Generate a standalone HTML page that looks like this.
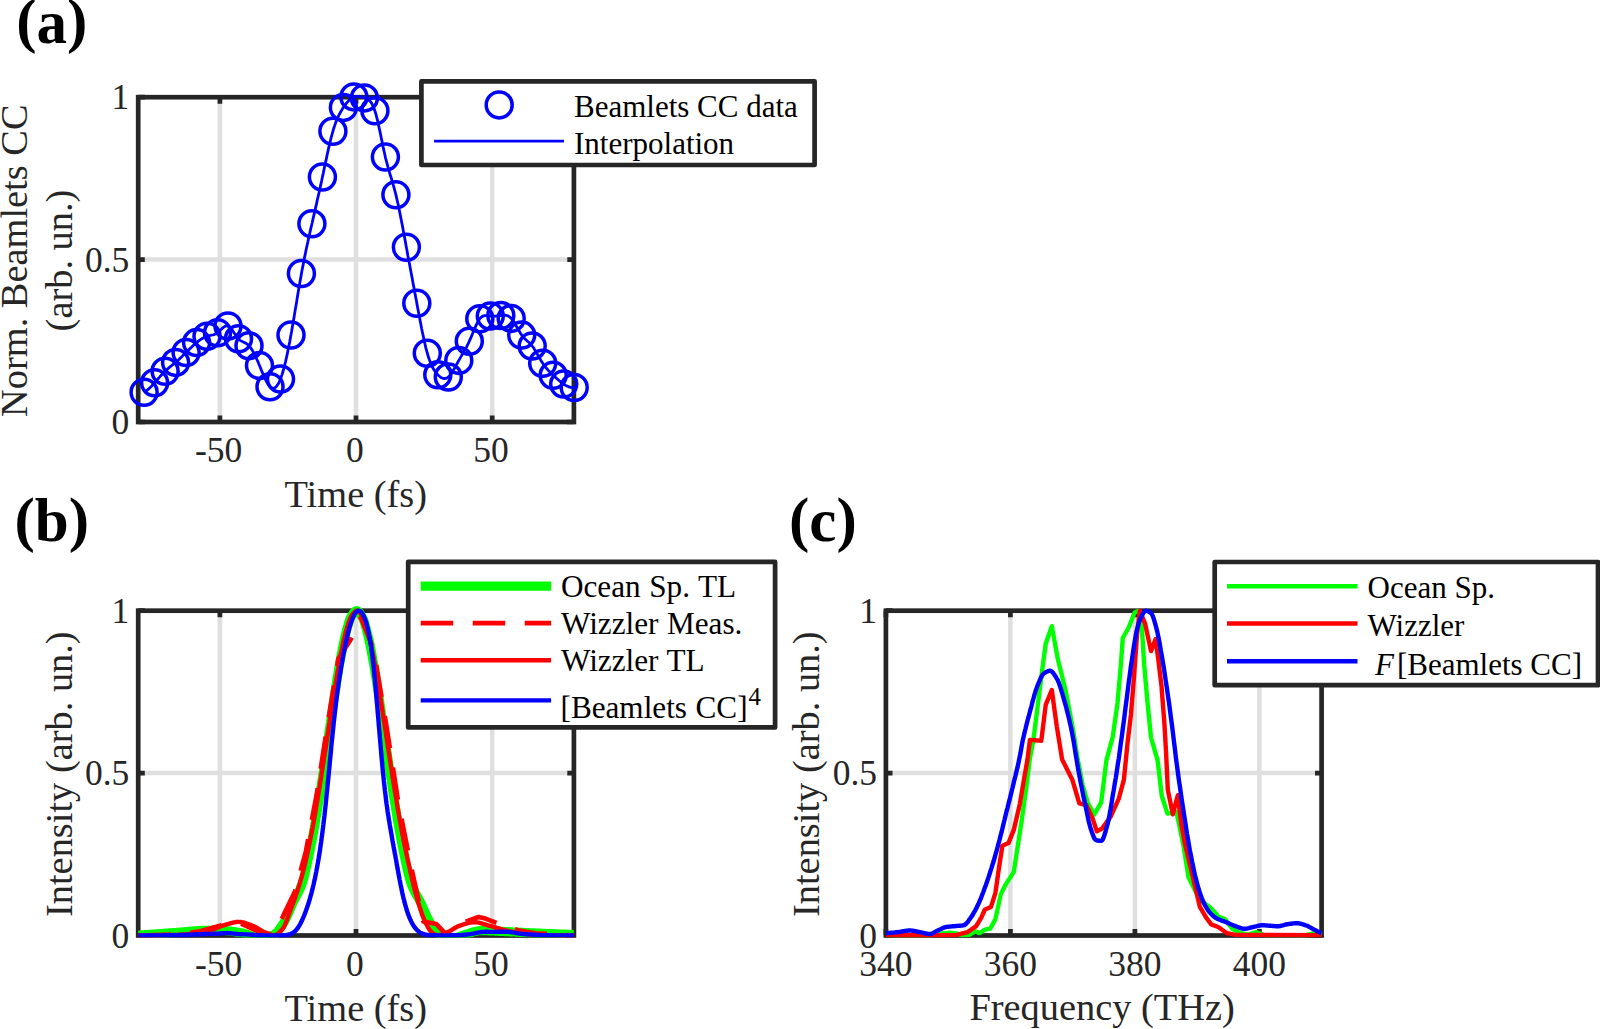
<!DOCTYPE html>
<html><head><meta charset="utf-8"><title>Figure</title>
<style>html,body{margin:0;padding:0;background:#fff}svg{display:block}text{font-family:"Liberation Serif","Times New Roman",serif}</style></head>
<body>
<svg width="1600" height="1029" viewBox="0 0 1600 1029">
<rect width="1600" height="1029" fill="#fff"/>
<defs>
<clipPath id="ca"><rect x="138.2" y="97.2" width="435.7" height="324.8"/></clipPath>
<clipPath id="cb"><rect x="138.2" y="605.5" width="435.7" height="332.1"/></clipPath>
<clipPath id="cc"><rect x="885.9" y="607.5" width="435.7" height="330.1"/></clipPath>
</defs>
<g id="panel-a">
<path d="M219.9 97.2 V422.0 M356.0 97.2 V422.0 M492.2 97.2 V422.0 M138.2 259.6 H573.9" stroke="#dfdfdf" stroke-width="4.5" fill="none"/>
<path d="M219.9 422.0 v-6.6 M219.9 97.2 v6.6 M356.0 422.0 v-6.6 M356.0 97.2 v6.6 M492.2 422.0 v-6.6 M492.2 97.2 v6.6 M138.2 97.2 h6.6 M573.9 97.2 h-6.6 M138.2 259.6 h6.6 M573.9 259.6 h-6.6 M138.2 422.0 h6.6 M573.9 422.0 h-6.6" stroke="#262626" stroke-width="4.7" fill="none"/>
<rect x="138.2" y="97.2" width="435.7" height="324.8" fill="none" stroke="#262626" stroke-width="4.7"/>
<path d="M144.1 392.3 L145.0 391.8 L145.8 391.2 L146.7 390.6 L147.5 389.9 L148.4 389.1 L149.3 388.4 L150.1 387.5 L151.0 386.7 L151.9 385.8 L152.7 384.9 L153.6 383.9 L154.4 383.0 L155.3 382.0 L156.2 381.0 L157.0 380.0 L157.9 379.0 L158.8 378.0 L159.6 377.0 L160.5 376.1 L161.3 375.1 L162.2 374.2 L163.1 373.2 L163.9 372.3 L164.8 371.5 L165.6 370.7 L166.5 369.9 L167.4 369.1 L168.2 368.4 L169.1 367.6 L170.0 366.9 L170.8 366.2 L171.7 365.6 L172.5 364.9 L173.4 364.2 L174.3 363.5 L175.1 362.8 L176.0 362.0 L176.9 361.3 L177.7 360.5 L178.6 359.7 L179.4 358.9 L180.3 358.1 L181.2 357.3 L182.0 356.5 L182.9 355.6 L183.7 354.8 L184.6 353.9 L185.5 353.1 L186.3 352.2 L187.2 351.4 L188.1 350.5 L188.9 349.7 L189.8 348.8 L190.6 348.0 L191.5 347.2 L192.4 346.3 L193.2 345.5 L194.1 344.7 L195.0 344.0 L195.8 343.2 L196.7 342.5 L197.5 341.8 L198.4 341.1 L199.3 340.5 L200.1 339.8 L201.0 339.2 L201.8 338.7 L202.7 338.2 L203.6 337.7 L204.4 337.2 L205.3 336.8 L206.2 336.5 L207.0 336.2 L207.9 336.0 L208.7 335.8 L209.6 335.6 L210.5 335.4 L211.3 335.2 L212.2 335.0 L213.1 334.8 L213.9 334.6 L214.8 334.2 L215.6 333.9 L216.5 333.4 L217.4 332.8 L218.2 332.2 L219.1 331.4 L219.9 330.6 L220.8 329.7 L221.7 328.9 L222.5 328.1 L223.4 327.4 L224.3 326.8 L225.1 326.3 L226.0 326.0 L226.8 325.8 L227.7 325.9 L228.6 326.2 L229.4 326.8 L230.3 327.6 L231.2 328.6 L232.0 329.7 L232.9 330.9 L233.7 332.2 L234.6 333.5 L235.5 334.8 L236.3 336.0 L237.2 337.2 L238.0 338.3 L238.9 339.2 L239.8 340.0 L240.6 340.6 L241.5 341.1 L242.4 341.6 L243.2 342.0 L244.1 342.4 L244.9 342.8 L245.8 343.3 L246.7 343.8 L247.5 344.4 L248.4 345.1 L249.3 346.0 L250.1 347.0 L251.0 348.2 L251.8 349.5 L252.7 350.9 L253.6 352.5 L254.4 354.1 L255.3 355.9 L256.1 357.7 L257.0 359.7 L257.9 361.6 L258.7 363.7 L259.6 365.8 L260.5 367.9 L261.3 370.0 L262.2 372.1 L263.0 374.1 L263.9 376.1 L264.8 378.0 L265.6 379.8 L266.5 381.5 L267.4 383.1 L268.2 384.5 L269.1 385.7 L269.9 386.7 L270.8 387.4 L271.7 387.9 L272.5 388.2 L273.4 388.3 L274.2 388.1 L275.1 387.6 L276.0 386.9 L276.8 385.9 L277.7 384.7 L278.6 383.2 L279.4 381.5 L280.3 379.5 L281.1 377.2 L282.0 374.6 L282.9 371.8 L283.7 368.8 L284.6 365.5 L285.5 362.0 L286.3 358.3 L287.2 354.4 L288.0 350.2 L288.9 345.9 L289.8 341.5 L290.6 336.8 L291.5 332.1 L292.3 327.2 L293.2 322.1 L294.1 317.0 L294.9 311.9 L295.8 306.7 L296.7 301.5 L297.5 296.3 L298.4 291.1 L299.2 286.0 L300.1 281.1 L301.0 276.2 L301.8 271.4 L302.7 266.9 L303.6 262.4 L304.4 258.1 L305.3 253.9 L306.1 249.7 L307.0 245.7 L307.9 241.8 L308.7 237.9 L309.6 234.0 L310.4 230.2 L311.3 226.5 L312.2 222.7 L313.0 218.9 L313.9 215.2 L314.8 211.4 L315.6 207.6 L316.5 203.9 L317.3 200.0 L318.2 196.2 L319.1 192.4 L319.9 188.5 L320.8 184.6 L321.7 180.6 L322.5 176.6 L323.4 172.6 L324.2 168.5 L325.1 164.4 L326.0 160.4 L326.8 156.4 L327.7 152.4 L328.5 148.6 L329.4 144.8 L330.3 141.2 L331.1 137.8 L332.0 134.5 L332.9 131.4 L333.7 128.5 L334.6 125.9 L335.4 123.4 L336.3 121.1 L337.2 119.0 L338.0 117.1 L338.9 115.2 L339.8 113.5 L340.6 111.9 L341.5 110.5 L342.3 109.1 L343.2 107.7 L344.1 106.4 L344.9 105.2 L345.8 104.1 L346.6 103.0 L347.5 101.9 L348.4 101.0 L349.2 100.1 L350.1 99.3 L351.0 98.6 L351.8 98.0 L352.7 97.5 L353.5 97.0 L354.4 96.7 L355.3 96.5 L356.1 96.4 L357.0 96.3 L357.9 96.3 L358.7 96.4 L359.6 96.6 L360.4 96.7 L361.3 97.0 L362.2 97.2 L363.0 97.5 L363.9 97.7 L364.7 98.0 L365.6 98.3 L366.5 98.6 L367.3 99.0 L368.2 99.5 L369.1 100.2 L369.9 101.0 L370.8 102.0 L371.6 103.3 L372.5 104.9 L373.4 106.7 L374.2 108.9 L375.1 111.5 L376.0 114.4 L376.8 117.7 L377.7 121.2 L378.5 125.0 L379.4 129.0 L380.3 133.1 L381.1 137.2 L382.0 141.4 L382.8 145.6 L383.7 149.6 L384.6 153.5 L385.4 157.3 L386.3 160.8 L387.2 164.1 L388.0 167.2 L388.9 170.2 L389.7 173.2 L390.6 176.0 L391.5 178.9 L392.3 181.8 L393.2 184.8 L394.1 187.8 L394.9 191.0 L395.8 194.4 L396.6 197.9 L397.5 201.7 L398.4 205.6 L399.2 209.7 L400.1 214.0 L400.9 218.3 L401.8 222.8 L402.7 227.3 L403.5 231.9 L404.4 236.6 L405.3 241.3 L406.1 245.9 L407.0 250.6 L407.8 255.3 L408.7 259.9 L409.6 264.5 L410.4 269.1 L411.3 273.7 L412.2 278.3 L413.0 282.9 L413.9 287.5 L414.7 292.1 L415.6 296.7 L416.5 301.3 L417.3 305.9 L418.2 310.5 L419.0 315.1 L419.9 319.6 L420.8 324.1 L421.6 328.5 L422.5 332.7 L423.4 336.8 L424.2 340.8 L425.1 344.5 L425.9 348.1 L426.8 351.4 L427.7 354.5 L428.5 357.3 L429.4 359.8 L430.3 362.1 L431.1 364.2 L432.0 366.1 L432.8 367.8 L433.7 369.4 L434.6 370.7 L435.4 372.0 L436.3 373.1 L437.1 374.1 L438.0 375.0 L438.9 375.8 L439.7 376.5 L440.6 377.2 L441.5 377.7 L442.3 378.1 L443.2 378.4 L444.0 378.5 L444.9 378.5 L445.8 378.4 L446.6 378.1 L447.5 377.6 L448.4 377.0 L449.2 376.1 L450.1 375.2 L450.9 374.0 L451.8 372.8 L452.7 371.4 L453.5 370.0 L454.4 368.5 L455.2 366.9 L456.1 365.4 L457.0 363.8 L457.8 362.2 L458.7 360.6 L459.6 359.1 L460.4 357.6 L461.3 356.1 L462.1 354.6 L463.0 353.2 L463.9 351.7 L464.7 350.2 L465.6 348.7 L466.5 347.1 L467.3 345.4 L468.2 343.7 L469.0 341.9 L469.9 339.9 L470.8 337.9 L471.6 335.9 L472.5 333.8 L473.3 331.7 L474.2 329.6 L475.1 327.6 L475.9 325.7 L476.8 323.8 L477.7 322.2 L478.5 320.7 L479.4 319.3 L480.2 318.2 L481.1 317.4 L482.0 316.7 L482.8 316.2 L483.7 315.9 L484.6 315.7 L485.4 315.6 L486.3 315.6 L487.1 315.7 L488.0 315.8 L488.9 315.9 L489.7 316.0 L490.6 316.1 L491.4 316.2 L492.3 316.2 L493.2 316.2 L494.0 316.2 L494.9 316.2 L495.8 316.1 L496.6 316.0 L497.5 315.9 L498.3 315.8 L499.2 315.7 L500.1 315.6 L500.9 315.5 L501.8 315.4 L502.7 315.3 L503.5 315.2 L504.4 315.2 L505.2 315.2 L506.1 315.4 L507.0 315.6 L507.8 315.9 L508.7 316.3 L509.5 316.9 L510.4 317.6 L511.3 318.4 L512.1 319.4 L513.0 320.6 L513.9 321.9 L514.7 323.3 L515.6 324.8 L516.4 326.3 L517.3 327.8 L518.2 329.3 L519.0 330.8 L519.9 332.3 L520.8 333.7 L521.6 334.9 L522.5 336.1 L523.3 337.1 L524.2 338.0 L525.1 338.9 L525.9 339.7 L526.8 340.5 L527.6 341.3 L528.5 342.0 L529.4 342.8 L530.2 343.7 L531.1 344.6 L532.0 345.7 L532.8 346.8 L533.7 348.0 L534.5 349.4 L535.4 350.8 L536.3 352.2 L537.1 353.7 L538.0 355.2 L538.9 356.8 L539.7 358.3 L540.6 359.8 L541.4 361.3 L542.3 362.6 L543.2 364.0 L544.0 365.2 L544.9 366.4 L545.7 367.5 L546.6 368.5 L547.5 369.5 L548.3 370.4 L549.2 371.3 L550.1 372.2 L550.9 373.0 L551.8 373.9 L552.6 374.7 L553.5 375.5 L554.4 376.3 L555.2 377.1 L556.1 377.9 L557.0 378.7 L557.8 379.4 L558.7 380.2 L559.5 380.9 L560.4 381.6 L561.3 382.3 L562.1 383.0 L563.0 383.6 L563.8 384.2 L564.7 384.8 L565.6 385.3 L566.4 385.7 L567.3 386.2 L568.2 386.5 L569.0 386.9 L569.9 387.1 L570.7 387.3 L571.6 387.5 L572.5 387.5 L573.3 387.6 L574.2 387.5" fill="none" stroke="#0000ff" stroke-width="2.8" stroke-linejoin="round"/>
<g fill="none" stroke="#0000ff" stroke-width="3.5">
<circle cx="144.1" cy="392.3" r="13"/>
<circle cx="154.6" cy="382.8" r="13"/>
<circle cx="165.1" cy="371.2" r="13"/>
<circle cx="175.6" cy="362.4" r="13"/>
<circle cx="186.1" cy="352.5" r="13"/>
<circle cx="196.6" cy="342.6" r="13"/>
<circle cx="207.0" cy="336.2" r="13"/>
<circle cx="217.5" cy="332.7" r="13"/>
<circle cx="228.0" cy="326.0" r="13"/>
<circle cx="238.5" cy="338.8" r="13"/>
<circle cx="249.0" cy="345.7" r="13"/>
<circle cx="259.5" cy="365.5" r="13"/>
<circle cx="270.0" cy="386.7" r="13"/>
<circle cx="280.5" cy="379.0" r="13"/>
<circle cx="291.0" cy="335.0" r="13"/>
<circle cx="301.4" cy="273.5" r="13"/>
<circle cx="311.9" cy="223.7" r="13"/>
<circle cx="322.4" cy="177.0" r="13"/>
<circle cx="332.9" cy="131.2" r="13"/>
<circle cx="343.4" cy="107.4" r="13"/>
<circle cx="353.9" cy="96.9" r="13"/>
<circle cx="364.4" cy="97.9" r="13"/>
<circle cx="374.9" cy="110.8" r="13"/>
<circle cx="385.4" cy="157.0" r="13"/>
<circle cx="395.9" cy="194.7" r="13"/>
<circle cx="406.4" cy="247.2" r="13"/>
<circle cx="416.8" cy="303.3" r="13"/>
<circle cx="427.3" cy="353.3" r="13"/>
<circle cx="437.8" cy="374.8" r="13"/>
<circle cx="448.3" cy="377.0" r="13"/>
<circle cx="458.8" cy="360.4" r="13"/>
<circle cx="469.3" cy="341.3" r="13"/>
<circle cx="479.8" cy="318.8" r="13"/>
<circle cx="490.3" cy="316.1" r="13"/>
<circle cx="500.8" cy="315.5" r="13"/>
<circle cx="511.2" cy="318.4" r="13"/>
<circle cx="521.7" cy="335.1" r="13"/>
<circle cx="532.2" cy="346.0" r="13"/>
<circle cx="542.7" cy="363.3" r="13"/>
<circle cx="553.2" cy="375.2" r="13"/>
<circle cx="563.7" cy="384.1" r="13"/>
<circle cx="574.2" cy="387.5" r="13"/>
</g>
</g>
<g id="panel-b">
<path d="M219.9 610.7 V935.5 M356.0 610.7 V935.5 M492.2 610.7 V935.5 M138.2 773.1 H573.9" stroke="#dfdfdf" stroke-width="4.5" fill="none"/>
<path d="M219.9 935.5 v-6.6 M219.9 610.7 v6.6 M356.0 935.5 v-6.6 M356.0 610.7 v6.6 M492.2 935.5 v-6.6 M492.2 610.7 v6.6 M138.2 610.7 h6.6 M573.9 610.7 h-6.6 M138.2 773.1 h6.6 M573.9 773.1 h-6.6 M138.2 935.5 h6.6 M573.9 935.5 h-6.6" stroke="#262626" stroke-width="4.7" fill="none"/>
<rect x="138.2" y="610.7" width="435.7" height="324.8" fill="none" stroke="#262626" stroke-width="4.7"/>
<g clip-path="url(#cb)" fill="none" stroke-linejoin="round">
<path d="M138.2 935.2 L138.7 935.1 L139.3 935.1 L139.8 935.1 L140.4 935.0 L140.9 935.0 L141.5 934.9 L142.0 934.9 L142.6 934.9 L143.1 934.8 L143.6 934.8 L144.2 934.7 L144.7 934.7 L145.3 934.7 L145.8 934.6 L146.4 934.6 L146.9 934.6 L147.5 934.5 L148.0 934.5 L148.5 934.4 L149.1 934.4 L149.6 934.4 L150.2 934.3 L150.7 934.3 L151.3 934.2 L151.8 934.2 L152.4 934.2 L152.9 934.1 L153.4 934.1 L154.0 934.0 L154.5 934.0 L155.1 934.0 L155.6 933.9 L156.2 933.9 L156.7 933.9 L157.3 933.8 L157.8 933.8 L158.4 933.7 L158.9 933.7 L159.4 933.7 L160.0 933.6 L160.5 933.6 L161.1 933.5 L161.6 933.5 L162.2 933.5 L162.7 933.4 L163.3 933.4 L163.8 933.3 L164.3 933.3 L164.9 933.3 L165.4 933.2 L166.0 933.2 L166.5 933.1 L167.1 933.1 L167.6 933.1 L168.2 933.0 L168.7 933.0 L169.2 933.0 L169.8 932.9 L170.3 932.9 L170.9 932.8 L171.4 932.8 L172.0 932.8 L172.5 932.7 L173.1 932.7 L173.6 932.6 L174.1 932.6 L174.7 932.6 L175.2 932.5 L175.8 932.5 L176.3 932.4 L176.9 932.4 L177.4 932.4 L178.0 932.3 L178.5 932.3 L179.0 932.3 L179.6 932.2 L180.1 932.2 L180.7 932.1 L181.2 932.1 L181.8 932.0 L182.3 932.0 L182.9 931.9 L183.4 931.9 L183.9 931.8 L184.5 931.8 L185.0 931.7 L185.6 931.7 L186.1 931.6 L186.7 931.6 L187.2 931.5 L187.8 931.5 L188.3 931.4 L188.9 931.4 L189.4 931.3 L189.9 931.3 L190.5 931.2 L191.0 931.2 L191.6 931.1 L192.1 931.1 L192.7 931.0 L193.2 931.0 L193.8 930.9 L194.3 930.9 L194.8 930.8 L195.4 930.8 L195.9 930.8 L196.5 930.7 L197.0 930.7 L197.6 930.6 L198.1 930.6 L198.7 930.6 L199.2 930.5 L199.7 930.5 L200.3 930.5 L200.8 930.4 L201.4 930.4 L201.9 930.4 L202.5 930.4 L203.0 930.4 L203.6 930.3 L204.1 930.3 L204.6 930.3 L205.2 930.3 L205.7 930.3 L206.3 930.3 L206.8 930.3 L207.4 930.3 L207.9 930.3 L208.5 930.3 L209.0 930.3 L209.5 930.3 L210.1 930.3 L210.6 930.3 L211.2 930.3 L211.7 930.3 L212.3 930.3 L212.8 930.3 L213.4 930.3 L213.9 930.3 L214.4 930.3 L215.0 930.3 L215.5 930.3 L216.1 930.3 L216.6 930.3 L217.2 930.3 L217.7 930.3 L218.3 930.3 L218.8 930.3 L219.3 930.3 L219.9 930.3 L220.4 930.3 L221.0 930.3 L221.5 930.3 L222.1 930.3 L222.6 930.4 L223.2 930.4 L223.7 930.4 L224.3 930.5 L224.8 930.5 L225.3 930.5 L225.9 930.6 L226.4 930.6 L227.0 930.7 L227.5 930.7 L228.1 930.8 L228.6 930.9 L229.2 930.9 L229.7 931.0 L230.2 931.1 L230.8 931.1 L231.3 931.2 L231.9 931.3 L232.4 931.4 L233.0 931.5 L233.5 931.5 L234.1 931.6 L234.6 931.7 L235.1 931.8 L235.7 931.9 L236.2 932.0 L236.8 932.1 L237.3 932.2 L237.9 932.3 L238.4 932.3 L239.0 932.4 L239.5 932.5 L240.0 932.6 L240.6 932.7 L241.1 932.8 L241.7 932.9 L242.2 933.0 L242.8 933.1 L243.3 933.2 L243.9 933.4 L244.4 933.5 L244.9 933.7 L245.5 933.9 L246.0 934.0 L246.6 934.2 L247.1 934.4 L247.7 934.6 L248.2 934.8 L248.8 935.0 L249.3 935.2 L249.8 935.4 L250.4 935.6 L250.9 935.8 L251.5 936.0 L252.0 936.2 L252.6 936.4 L253.1 936.6 L253.7 936.8 L254.2 936.9 L254.7 937.1 L255.3 937.3 L255.8 937.4 L256.4 937.5 L256.9 937.7 L257.5 937.8 L258.0 937.9 L258.6 937.9 L259.1 938.0 L259.7 938.1 L260.2 938.1 L260.7 938.1 L261.3 938.1 L261.8 938.1 L262.4 938.0 L262.9 938.0 L263.5 937.9 L264.0 937.8 L264.6 937.8 L265.1 937.7 L265.6 937.5 L266.2 937.4 L266.7 937.3 L267.3 937.1 L267.8 937.0 L268.4 936.8 L268.9 936.7 L269.5 936.5 L270.0 936.3 L270.5 936.1 L271.1 935.9 L271.6 935.7 L272.2 935.5 L272.7 935.3 L273.3 935.1 L273.8 934.8 L274.4 934.4 L274.9 934.0 L275.4 933.6 L276.0 933.1 L276.5 932.6 L277.1 932.0 L277.6 931.4 L278.2 930.7 L278.7 930.0 L279.3 929.3 L279.8 928.6 L280.3 927.8 L280.9 927.0 L281.4 926.2 L282.0 925.4 L282.5 924.6 L283.1 923.8 L283.6 922.9 L284.2 922.1 L284.7 921.2 L285.2 920.2 L285.8 919.1 L286.3 918.0 L286.9 916.8 L287.4 915.6 L288.0 914.4 L288.5 913.1 L289.1 911.8 L289.6 910.5 L290.2 909.3 L290.7 908.0 L291.2 906.7 L291.8 905.4 L292.3 904.2 L292.9 903.0 L293.4 901.9 L294.0 900.8 L294.5 899.7 L295.1 898.7 L295.6 897.7 L296.1 896.6 L296.7 895.6 L297.2 894.6 L297.8 893.6 L298.3 892.5 L298.9 891.4 L299.4 890.2 L300.0 889.0 L300.5 887.8 L301.0 886.4 L301.6 885.0 L302.1 883.5 L302.7 881.9 L303.2 880.1 L303.8 878.1 L304.3 876.0 L304.9 873.8 L305.4 871.5 L305.9 869.1 L306.5 866.7 L307.0 864.3 L307.6 861.9 L308.1 859.5 L308.7 857.0 L309.2 854.4 L309.8 851.8 L310.3 849.1 L310.8 846.3 L311.4 843.6 L311.9 840.7 L312.5 837.9 L313.0 835.0 L313.6 832.0 L314.1 829.0 L314.7 825.9 L315.2 822.8 L315.7 819.6 L316.3 816.4 L316.8 813.2 L317.4 809.9 L317.9 806.5 L318.5 803.2 L319.0 799.8 L319.6 796.3 L320.1 792.9 L320.6 789.3 L321.2 785.7 L321.7 782.1 L322.3 778.5 L322.8 774.9 L323.4 771.2 L323.9 767.6 L324.5 763.9 L325.0 760.2 L325.6 756.5 L326.1 752.7 L326.6 748.9 L327.2 745.1 L327.7 741.3 L328.3 737.6 L328.8 733.8 L329.4 730.1 L329.9 726.4 L330.5 722.6 L331.0 718.9 L331.5 715.1 L332.1 711.4 L332.6 707.7 L333.2 704.0 L333.7 700.4 L334.3 696.8 L334.8 693.2 L335.4 689.8 L335.9 686.3 L336.4 682.8 L337.0 679.4 L337.5 676.0 L338.1 672.6 L338.6 669.4 L339.2 666.2 L339.7 663.1 L340.3 660.1 L340.8 657.2 L341.3 654.2 L341.9 651.4 L342.4 648.5 L343.0 645.8 L343.5 643.1 L344.1 640.6 L344.6 638.1 L345.2 635.8 L345.7 633.7 L346.2 631.6 L346.8 629.5 L347.3 627.5 L347.9 625.5 L348.4 623.6 L349.0 621.9 L349.5 620.3 L350.1 618.8 L350.6 617.6 L351.1 616.6 L351.7 615.7 L352.2 614.9 L352.8 614.0 L353.3 613.3 L353.9 612.6 L354.4 611.9 L355.0 611.4 L355.5 611.0 L356.0 610.8 L356.6 610.7 L357.1 610.8 L357.7 611.0 L358.2 611.4 L358.8 611.9 L359.3 612.6 L359.9 613.3 L360.4 614.0 L361.0 614.9 L361.5 615.7 L362.0 616.6 L362.6 617.6 L363.1 618.8 L363.7 620.3 L364.2 621.9 L364.8 623.6 L365.3 625.5 L365.9 627.5 L366.4 629.5 L366.9 631.6 L367.5 633.7 L368.0 635.8 L368.6 638.1 L369.1 640.6 L369.7 643.1 L370.2 645.8 L370.8 648.5 L371.3 651.4 L371.8 654.2 L372.4 657.2 L372.9 660.1 L373.5 663.1 L374.0 666.2 L374.6 669.4 L375.1 672.6 L375.7 676.0 L376.2 679.4 L376.7 682.8 L377.3 686.3 L377.8 689.8 L378.4 693.2 L378.9 696.8 L379.5 700.4 L380.0 704.0 L380.6 707.7 L381.1 711.4 L381.6 715.1 L382.2 718.9 L382.7 722.6 L383.3 726.4 L383.8 730.1 L384.4 733.8 L384.9 737.6 L385.5 741.3 L386.0 745.1 L386.5 748.9 L387.1 752.7 L387.6 756.5 L388.2 760.2 L388.7 763.9 L389.3 767.6 L389.8 771.2 L390.4 774.9 L390.9 778.5 L391.5 782.1 L392.0 785.7 L392.5 789.3 L393.1 792.9 L393.6 796.3 L394.2 799.8 L394.7 803.2 L395.3 806.5 L395.8 809.9 L396.4 813.2 L396.9 816.4 L397.4 819.6 L398.0 822.8 L398.5 825.9 L399.1 829.0 L399.6 832.0 L400.2 835.0 L400.7 837.9 L401.3 840.7 L401.8 843.6 L402.3 846.3 L402.9 849.1 L403.4 851.8 L404.0 854.4 L404.5 857.0 L405.1 859.5 L405.6 861.9 L406.2 864.3 L406.7 866.7 L407.2 869.2 L407.8 871.5 L408.3 873.8 L408.9 876.1 L409.4 878.2 L410.0 880.1 L410.5 881.9 L411.1 883.5 L411.6 885.0 L412.1 886.3 L412.7 887.6 L413.2 888.8 L413.8 890.0 L414.3 891.1 L414.9 892.1 L415.4 893.1 L416.0 894.1 L416.5 895.1 L417.0 896.0 L417.6 897.0 L418.1 897.9 L418.7 898.9 L419.2 899.9 L419.8 900.9 L420.3 901.9 L420.9 903.0 L421.4 904.2 L421.9 905.3 L422.5 906.5 L423.0 907.7 L423.6 909.0 L424.1 910.2 L424.7 911.5 L425.2 912.7 L425.8 913.9 L426.3 915.1 L426.9 916.3 L427.4 917.5 L427.9 918.6 L428.5 919.6 L429.0 920.7 L429.6 921.6 L430.1 922.5 L430.7 923.4 L431.2 924.2 L431.8 925.1 L432.3 925.9 L432.8 926.7 L433.4 927.6 L433.9 928.4 L434.5 929.1 L435.0 929.9 L435.6 930.6 L436.1 931.3 L436.7 932.0 L437.2 932.6 L437.7 933.2 L438.3 933.8 L438.8 934.3 L439.4 934.7 L439.9 935.1 L440.5 935.5 L441.0 935.8 L441.6 936.2 L442.1 936.5 L442.6 936.8 L443.2 937.1 L443.7 937.4 L444.3 937.7 L444.8 938.0 L445.4 938.2 L445.9 938.5 L446.5 938.7 L447.0 938.9 L447.5 939.0 L448.1 939.2 L448.6 939.3 L449.2 939.4 L449.7 939.4 L450.3 939.4 L450.8 939.4 L451.4 939.3 L451.9 939.2 L452.4 939.1 L453.0 939.0 L453.5 938.8 L454.1 938.6 L454.6 938.5 L455.2 938.3 L455.7 938.0 L456.3 937.8 L456.8 937.6 L457.4 937.4 L457.9 937.1 L458.4 936.9 L459.0 936.7 L459.5 936.5 L460.1 936.2 L460.6 936.0 L461.2 935.8 L461.7 935.7 L462.3 935.5 L462.8 935.3 L463.3 935.2 L463.9 935.0 L464.4 934.8 L465.0 934.7 L465.5 934.5 L466.1 934.3 L466.6 934.1 L467.2 933.9 L467.7 933.7 L468.2 933.6 L468.8 933.4 L469.3 933.2 L469.9 933.0 L470.4 932.8 L471.0 932.6 L471.5 932.5 L472.1 932.3 L472.6 932.1 L473.1 932.0 L473.7 931.8 L474.2 931.7 L474.8 931.5 L475.3 931.4 L475.9 931.3 L476.4 931.2 L477.0 931.1 L477.5 931.0 L478.0 930.9 L478.6 930.8 L479.1 930.7 L479.7 930.7 L480.2 930.7 L480.8 930.6 L481.3 930.6 L481.9 930.6 L482.4 930.6 L482.9 930.6 L483.5 930.6 L484.0 930.6 L484.6 930.7 L485.1 930.7 L485.7 930.7 L486.2 930.7 L486.8 930.7 L487.3 930.7 L487.8 930.7 L488.4 930.8 L488.9 930.8 L489.5 930.8 L490.0 930.8 L490.6 930.8 L491.1 930.9 L491.7 930.9 L492.2 930.9 L492.8 930.9 L493.3 931.0 L493.8 931.0 L494.4 931.0 L494.9 931.1 L495.5 931.1 L496.0 931.1 L496.6 931.1 L497.1 931.2 L497.7 931.2 L498.2 931.2 L498.7 931.3 L499.3 931.3 L499.8 931.3 L500.4 931.3 L500.9 931.4 L501.5 931.4 L502.0 931.4 L502.6 931.4 L503.1 931.5 L503.6 931.5 L504.2 931.5 L504.7 931.6 L505.3 931.6 L505.8 931.6 L506.4 931.6 L506.9 931.7 L507.5 931.7 L508.0 931.7 L508.5 931.7 L509.1 931.7 L509.6 931.8 L510.2 931.8 L510.7 931.8 L511.3 931.9 L511.8 931.9 L512.4 931.9 L512.9 931.9 L513.4 932.0 L514.0 932.0 L514.5 932.0 L515.1 932.0 L515.6 932.1 L516.2 932.1 L516.7 932.1 L517.3 932.1 L517.8 932.2 L518.3 932.2 L518.9 932.2 L519.4 932.3 L520.0 932.3 L520.5 932.3 L521.1 932.3 L521.6 932.4 L522.2 932.4 L522.7 932.4 L523.2 932.4 L523.8 932.5 L524.3 932.5 L524.9 932.5 L525.4 932.5 L526.0 932.6 L526.5 932.6 L527.1 932.6 L527.6 932.7 L528.2 932.7 L528.7 932.7 L529.2 932.7 L529.8 932.8 L530.3 932.8 L530.9 932.8 L531.4 932.8 L532.0 932.9 L532.5 932.9 L533.1 932.9 L533.6 932.9 L534.1 932.9 L534.7 933.0 L535.2 933.0 L535.8 933.0 L536.3 933.0 L536.9 933.1 L537.4 933.1 L538.0 933.1 L538.5 933.1 L539.0 933.2 L539.6 933.2 L540.1 933.2 L540.7 933.2 L541.2 933.3 L541.8 933.3 L542.3 933.3 L542.9 933.3 L543.4 933.3 L543.9 933.4 L544.5 933.4 L545.0 933.4 L545.6 933.4 L546.1 933.5 L546.7 933.5 L547.2 933.5 L547.8 933.5 L548.3 933.5 L548.8 933.6 L549.4 933.6 L549.9 933.6 L550.5 933.6 L551.0 933.7 L551.6 933.7 L552.1 933.7 L552.7 933.7 L553.2 933.7 L553.7 933.8 L554.3 933.8 L554.8 933.8 L555.4 933.8 L555.9 933.9 L556.5 933.9 L557.0 933.9 L557.6 933.9 L558.1 933.9 L558.7 934.0 L559.2 934.0 L559.7 934.0 L560.3 934.0 L560.8 934.0 L561.4 934.1 L561.9 934.1 L562.5 934.1 L563.0 934.1 L563.6 934.1 L564.1 934.2 L564.6 934.2 L565.2 934.2 L565.7 934.2 L566.3 934.3 L566.8 934.3 L567.4 934.3 L567.9 934.3 L568.5 934.3 L569.0 934.4 L569.5 934.4 L570.1 934.4 L570.6 934.4 L571.2 934.4 L571.7 934.4 L572.3 934.5 L572.8 934.5 L573.4 934.5 L573.9 934.5" stroke="#00ff00" stroke-width="9.2"/>
<path d="M138.2 935.5 L176.3 934.5 L198.1 931.6 L219.9 925.8 L230.8 922.5 L241.7 923.8 L252.6 929.0 L263.5 933.6 L273.0 934.2 L282.5 917.3 L294.8 891.8 L305.7 852.1 L316.6 795.0 L327.5 724.9 L338.3 658.8 L350.1 640.6 L361.0 617.8 L373.5 649.2 L386.0 723.1 L398.5 803.5 L411.1 866.7 L423.3 921.5 L436.4 924.1 L445.9 934.2 L457.6 924.8 L467.7 920.9 L478.6 917.0 L485.4 918.6 L505.8 926.4 L519.4 930.6 L535.8 933.2 L573.9 935.5" stroke="#ff0000" stroke-width="4.6" stroke-dasharray="32.5 19.5"/>
<path d="M138.2 935.5 L138.7 935.5 L139.3 935.5 L139.8 935.5 L140.4 935.5 L140.9 935.5 L141.5 935.5 L142.0 935.5 L142.6 935.5 L143.1 935.5 L143.6 935.5 L144.2 935.5 L144.7 935.5 L145.3 935.5 L145.8 935.5 L146.4 935.5 L146.9 935.5 L147.5 935.5 L148.0 935.5 L148.5 935.4 L149.1 935.4 L149.6 935.4 L150.2 935.4 L150.7 935.4 L151.3 935.4 L151.8 935.4 L152.4 935.4 L152.9 935.4 L153.4 935.4 L154.0 935.4 L154.5 935.4 L155.1 935.4 L155.6 935.3 L156.2 935.3 L156.7 935.3 L157.3 935.3 L157.8 935.3 L158.4 935.3 L158.9 935.3 L159.4 935.3 L160.0 935.3 L160.5 935.3 L161.1 935.2 L161.6 935.2 L162.2 935.2 L162.7 935.2 L163.3 935.2 L163.8 935.2 L164.3 935.2 L164.9 935.2 L165.4 935.1 L166.0 935.1 L166.5 935.1 L167.1 935.1 L167.6 935.1 L168.2 935.1 L168.7 935.1 L169.2 935.1 L169.8 935.0 L170.3 935.0 L170.9 935.0 L171.4 935.0 L172.0 935.0 L172.5 935.0 L173.1 934.9 L173.6 934.9 L174.1 934.9 L174.7 934.9 L175.2 934.9 L175.8 934.9 L176.3 934.9 L176.9 934.8 L177.4 934.8 L178.0 934.8 L178.5 934.8 L179.0 934.7 L179.6 934.7 L180.1 934.7 L180.7 934.7 L181.2 934.6 L181.8 934.6 L182.3 934.6 L182.9 934.5 L183.4 934.5 L183.9 934.4 L184.5 934.4 L185.0 934.4 L185.6 934.3 L186.1 934.3 L186.7 934.2 L187.2 934.2 L187.8 934.1 L188.3 934.1 L188.9 934.0 L189.4 934.0 L189.9 933.9 L190.5 933.9 L191.0 933.8 L191.6 933.7 L192.1 933.7 L192.7 933.6 L193.2 933.5 L193.8 933.5 L194.3 933.4 L194.8 933.3 L195.4 933.3 L195.9 933.2 L196.5 933.1 L197.0 933.0 L197.6 933.0 L198.1 932.9 L198.7 932.8 L199.2 932.7 L199.7 932.7 L200.3 932.6 L200.8 932.5 L201.4 932.4 L201.9 932.3 L202.5 932.2 L203.0 932.1 L203.6 932.1 L204.1 932.0 L204.6 931.9 L205.2 931.8 L205.7 931.7 L206.3 931.6 L206.8 931.5 L207.4 931.4 L207.9 931.3 L208.5 931.1 L209.0 931.0 L209.5 930.8 L210.1 930.6 L210.6 930.5 L211.2 930.3 L211.7 930.1 L212.3 929.9 L212.8 929.6 L213.4 929.4 L213.9 929.2 L214.4 929.0 L215.0 928.8 L215.5 928.5 L216.1 928.3 L216.6 928.1 L217.2 927.8 L217.7 927.6 L218.3 927.4 L218.8 927.1 L219.3 926.9 L219.9 926.7 L220.4 926.5 L221.0 926.2 L221.5 926.0 L222.1 925.8 L222.6 925.6 L223.2 925.4 L223.7 925.3 L224.3 925.1 L224.8 924.9 L225.3 924.8 L225.9 924.6 L226.4 924.5 L227.0 924.3 L227.5 924.2 L228.1 924.0 L228.6 923.9 L229.2 923.7 L229.7 923.5 L230.2 923.4 L230.8 923.2 L231.3 923.1 L231.9 922.9 L232.4 922.8 L233.0 922.7 L233.5 922.5 L234.1 922.4 L234.6 922.3 L235.1 922.2 L235.7 922.1 L236.2 922.0 L236.8 922.0 L237.3 921.9 L237.9 921.9 L238.4 921.9 L239.0 921.9 L239.5 921.9 L240.0 921.9 L240.6 921.9 L241.1 922.0 L241.7 922.1 L242.2 922.2 L242.8 922.3 L243.3 922.4 L243.9 922.6 L244.4 922.7 L244.9 922.9 L245.5 923.1 L246.0 923.3 L246.6 923.5 L247.1 923.7 L247.7 923.9 L248.2 924.1 L248.8 924.3 L249.3 924.5 L249.8 924.7 L250.4 924.9 L250.9 925.1 L251.5 925.3 L252.0 925.6 L252.6 925.8 L253.1 926.0 L253.7 926.2 L254.2 926.4 L254.7 926.7 L255.3 927.0 L255.8 927.3 L256.4 927.6 L256.9 927.9 L257.5 928.2 L258.0 928.5 L258.6 928.9 L259.1 929.2 L259.7 929.5 L260.2 929.8 L260.7 930.2 L261.3 930.5 L261.8 930.8 L262.4 931.1 L262.9 931.4 L263.5 931.7 L264.0 932.0 L264.6 932.2 L265.1 932.5 L265.6 932.7 L266.2 932.9 L266.7 933.1 L267.3 933.3 L267.8 933.5 L268.4 933.7 L268.9 933.9 L269.5 934.1 L270.0 934.3 L270.5 934.5 L271.1 934.7 L271.6 934.8 L272.2 934.9 L272.7 935.0 L273.3 935.1 L273.8 935.2 L274.4 935.2 L274.9 935.1 L275.4 935.0 L276.0 934.8 L276.5 934.6 L277.1 934.3 L277.6 933.9 L278.2 933.5 L278.7 933.0 L279.3 932.5 L279.8 932.0 L280.3 931.4 L280.9 930.8 L281.4 930.2 L282.0 929.6 L282.5 929.0 L283.1 928.3 L283.6 927.4 L284.2 926.4 L284.7 925.3 L285.2 924.1 L285.8 922.8 L286.3 921.4 L286.9 920.0 L287.4 918.5 L288.0 917.0 L288.5 915.5 L289.1 913.9 L289.6 912.4 L290.2 910.9 L290.7 909.5 L291.2 908.1 L291.8 906.7 L292.3 905.3 L292.9 903.8 L293.4 902.3 L294.0 900.9 L294.5 899.4 L295.1 897.8 L295.6 896.3 L296.1 894.7 L296.7 893.1 L297.2 891.4 L297.8 889.7 L298.3 888.0 L298.9 886.3 L299.4 884.5 L300.0 882.7 L300.5 880.9 L301.0 879.0 L301.6 877.1 L302.1 875.1 L302.7 873.1 L303.2 871.0 L303.8 868.9 L304.3 866.7 L304.9 864.4 L305.4 862.1 L305.9 859.8 L306.5 857.4 L307.0 855.0 L307.6 852.5 L308.1 850.0 L308.7 847.4 L309.2 844.8 L309.8 842.1 L310.3 839.4 L310.8 836.6 L311.4 833.8 L311.9 831.0 L312.5 828.1 L313.0 825.2 L313.6 822.2 L314.1 819.2 L314.7 816.1 L315.2 813.0 L315.7 809.9 L316.3 806.7 L316.8 803.4 L317.4 800.2 L317.9 796.9 L318.5 793.6 L319.0 790.3 L319.6 786.9 L320.1 783.5 L320.6 780.1 L321.2 776.6 L321.7 773.1 L322.3 769.6 L322.8 766.0 L323.4 762.5 L323.9 759.0 L324.5 755.4 L325.0 751.9 L325.6 748.3 L326.1 744.7 L326.6 741.1 L327.2 737.5 L327.7 733.9 L328.3 730.3 L328.8 726.7 L329.4 723.1 L329.9 719.6 L330.5 716.0 L331.0 712.5 L331.5 709.0 L332.1 705.4 L332.6 701.9 L333.2 698.5 L333.7 695.0 L334.3 691.7 L334.8 688.3 L335.4 685.1 L335.9 681.8 L336.4 678.6 L337.0 675.4 L337.5 672.2 L338.1 669.1 L338.6 666.0 L339.2 663.0 L339.7 660.1 L340.3 657.3 L340.8 654.6 L341.3 651.9 L341.9 649.2 L342.4 646.6 L343.0 644.0 L343.5 641.5 L344.1 639.1 L344.6 636.8 L345.2 634.7 L345.7 632.6 L346.2 630.7 L346.8 628.8 L347.3 626.9 L347.9 625.1 L348.4 623.3 L349.0 621.7 L349.5 620.1 L350.1 618.7 L350.6 617.5 L351.1 616.5 L351.7 615.7 L352.2 614.9 L352.8 614.1 L353.3 613.4 L353.9 612.7 L354.4 612.1 L355.0 611.6 L355.5 611.2 L356.0 610.9 L356.6 610.7 L357.1 610.7 L357.7 610.9 L358.2 611.2 L358.8 611.6 L359.3 612.1 L359.9 612.7 L360.4 613.4 L361.0 614.1 L361.5 614.9 L362.0 615.7 L362.6 616.5 L363.1 617.5 L363.7 618.7 L364.2 620.1 L364.8 621.7 L365.3 623.3 L365.9 625.1 L366.4 626.9 L366.9 628.8 L367.5 630.7 L368.0 632.6 L368.6 634.7 L369.1 636.8 L369.7 639.1 L370.2 641.5 L370.8 644.0 L371.3 646.6 L371.8 649.2 L372.4 651.9 L372.9 654.6 L373.5 657.3 L374.0 660.1 L374.6 663.0 L375.1 666.0 L375.7 669.1 L376.2 672.2 L376.7 675.4 L377.3 678.6 L377.8 681.8 L378.4 685.1 L378.9 688.3 L379.5 691.7 L380.0 695.0 L380.6 698.5 L381.1 701.9 L381.6 705.4 L382.2 709.0 L382.7 712.5 L383.3 716.0 L383.8 719.6 L384.4 723.1 L384.9 726.7 L385.5 730.3 L386.0 733.9 L386.5 737.5 L387.1 741.1 L387.6 744.7 L388.2 748.3 L388.7 751.9 L389.3 755.4 L389.8 759.0 L390.4 762.5 L390.9 766.0 L391.5 769.6 L392.0 773.1 L392.5 776.6 L393.1 780.1 L393.6 783.5 L394.2 786.9 L394.7 790.3 L395.3 793.6 L395.8 796.9 L396.4 800.2 L396.9 803.4 L397.4 806.7 L398.0 809.9 L398.5 813.0 L399.1 816.1 L399.6 819.2 L400.2 822.2 L400.7 825.2 L401.3 828.1 L401.8 831.0 L402.3 833.8 L402.9 836.6 L403.4 839.4 L404.0 842.1 L404.5 844.8 L405.1 847.4 L405.6 850.0 L406.2 852.5 L406.7 855.0 L407.2 857.5 L407.8 860.0 L408.3 862.5 L408.9 865.0 L409.4 867.4 L410.0 869.8 L410.5 872.2 L411.1 874.6 L411.6 877.0 L412.1 879.3 L412.7 881.6 L413.2 883.8 L413.8 886.0 L414.3 888.2 L414.9 890.4 L415.4 892.4 L416.0 894.5 L416.5 896.5 L417.0 898.4 L417.6 900.3 L418.1 902.1 L418.7 903.9 L419.2 905.6 L419.8 907.4 L420.3 909.1 L420.9 910.7 L421.4 912.3 L421.9 913.9 L422.5 915.4 L423.0 916.9 L423.6 918.3 L424.1 919.6 L424.7 920.8 L425.2 922.0 L425.8 923.0 L426.3 924.1 L426.9 925.1 L427.4 926.2 L427.9 927.2 L428.5 928.1 L429.0 929.0 L429.6 929.8 L430.1 930.6 L430.7 931.3 L431.2 931.9 L431.8 932.5 L432.3 932.9 L432.8 933.3 L433.4 933.6 L433.9 934.0 L434.5 934.3 L435.0 934.6 L435.6 934.8 L436.1 935.0 L436.7 935.1 L437.2 935.2 L437.7 935.2 L438.3 935.1 L438.8 935.1 L439.4 935.0 L439.9 934.8 L440.5 934.7 L441.0 934.6 L441.6 934.4 L442.1 934.2 L442.6 934.1 L443.2 933.9 L443.7 933.7 L444.3 933.5 L444.8 933.3 L445.4 933.1 L445.9 932.9 L446.5 932.7 L447.0 932.5 L447.5 932.2 L448.1 932.0 L448.6 931.7 L449.2 931.4 L449.7 931.1 L450.3 930.8 L450.8 930.5 L451.4 930.2 L451.9 929.8 L452.4 929.5 L453.0 929.1 L453.5 928.8 L454.1 928.5 L454.6 928.1 L455.2 927.8 L455.7 927.5 L456.3 927.2 L456.8 926.9 L457.4 926.7 L457.9 926.4 L458.4 926.2 L459.0 925.9 L459.5 925.8 L460.1 925.6 L460.6 925.4 L461.2 925.2 L461.7 925.0 L462.3 924.8 L462.8 924.7 L463.3 924.5 L463.9 924.3 L464.4 924.1 L465.0 924.0 L465.5 923.8 L466.1 923.6 L466.6 923.5 L467.2 923.3 L467.7 923.2 L468.2 923.0 L468.8 922.9 L469.3 922.8 L469.9 922.7 L470.4 922.6 L471.0 922.5 L471.5 922.4 L472.1 922.3 L472.6 922.3 L473.1 922.2 L473.7 922.2 L474.2 922.2 L474.8 922.2 L475.3 922.2 L475.9 922.2 L476.4 922.3 L477.0 922.4 L477.5 922.4 L478.0 922.5 L478.6 922.6 L479.1 922.7 L479.7 922.9 L480.2 923.0 L480.8 923.1 L481.3 923.3 L481.9 923.5 L482.4 923.6 L482.9 923.8 L483.5 924.0 L484.0 924.1 L484.6 924.3 L485.1 924.5 L485.7 924.6 L486.2 924.8 L486.8 925.0 L487.3 925.1 L487.8 925.3 L488.4 925.5 L488.9 925.6 L489.5 925.8 L490.0 925.9 L490.6 926.0 L491.1 926.2 L491.7 926.3 L492.2 926.5 L492.8 926.6 L493.3 926.8 L493.8 927.0 L494.4 927.1 L494.9 927.3 L495.5 927.4 L496.0 927.6 L496.6 927.8 L497.1 927.9 L497.7 928.1 L498.2 928.3 L498.7 928.4 L499.3 928.6 L499.8 928.7 L500.4 928.9 L500.9 929.1 L501.5 929.2 L502.0 929.4 L502.6 929.5 L503.1 929.7 L503.6 929.8 L504.2 930.0 L504.7 930.1 L505.3 930.2 L505.8 930.4 L506.4 930.5 L506.9 930.6 L507.5 930.7 L508.0 930.8 L508.5 931.0 L509.1 931.1 L509.6 931.2 L510.2 931.3 L510.7 931.4 L511.3 931.5 L511.8 931.6 L512.4 931.7 L512.9 931.8 L513.4 931.9 L514.0 932.0 L514.5 932.1 L515.1 932.2 L515.6 932.3 L516.2 932.4 L516.7 932.5 L517.3 932.6 L517.8 932.7 L518.3 932.8 L518.9 932.9 L519.4 933.0 L520.0 933.1 L520.5 933.2 L521.1 933.3 L521.6 933.4 L522.2 933.4 L522.7 933.5 L523.2 933.6 L523.8 933.7 L524.3 933.8 L524.9 933.9 L525.4 933.9 L526.0 934.0 L526.5 934.1 L527.1 934.1 L527.6 934.2 L528.2 934.3 L528.7 934.3 L529.2 934.4 L529.8 934.4 L530.3 934.5 L530.9 934.6 L531.4 934.6 L532.0 934.6 L532.5 934.7 L533.1 934.7 L533.6 934.8 L534.1 934.8 L534.7 934.8 L535.2 934.8 L535.8 934.9 L536.3 934.9 L536.9 934.9 L537.4 934.9 L538.0 934.9 L538.5 934.9 L539.0 935.0 L539.6 935.0 L540.1 935.0 L540.7 935.0 L541.2 935.0 L541.8 935.0 L542.3 935.0 L542.9 935.1 L543.4 935.1 L543.9 935.1 L544.5 935.1 L545.0 935.1 L545.6 935.1 L546.1 935.1 L546.7 935.2 L547.2 935.2 L547.8 935.2 L548.3 935.2 L548.8 935.2 L549.4 935.2 L549.9 935.2 L550.5 935.2 L551.0 935.3 L551.6 935.3 L552.1 935.3 L552.7 935.3 L553.2 935.3 L553.7 935.3 L554.3 935.3 L554.8 935.3 L555.4 935.3 L555.9 935.3 L556.5 935.4 L557.0 935.4 L557.6 935.4 L558.1 935.4 L558.7 935.4 L559.2 935.4 L559.7 935.4 L560.3 935.4 L560.8 935.4 L561.4 935.4 L561.9 935.4 L562.5 935.4 L563.0 935.4 L563.6 935.4 L564.1 935.5 L564.6 935.5 L565.2 935.5 L565.7 935.5 L566.3 935.5 L566.8 935.5 L567.4 935.5 L567.9 935.5 L568.5 935.5 L569.0 935.5 L569.5 935.5 L570.1 935.5 L570.6 935.5 L571.2 935.5 L571.7 935.5 L572.3 935.5 L572.8 935.5 L573.4 935.5 L573.9 935.5" stroke="#ff0000" stroke-width="4.4"/>
<path d="M138.2 935.5 L138.7 935.5 L139.3 935.5 L139.8 935.5 L140.4 935.5 L140.9 935.5 L141.5 935.5 L142.0 935.5 L142.6 935.5 L143.1 935.5 L143.6 935.5 L144.2 935.5 L144.7 935.5 L145.3 935.5 L145.8 935.5 L146.4 935.5 L146.9 935.5 L147.5 935.5 L148.0 935.5 L148.5 935.5 L149.1 935.5 L149.6 935.5 L150.2 935.5 L150.7 935.5 L151.3 935.5 L151.8 935.5 L152.4 935.4 L152.9 935.4 L153.4 935.4 L154.0 935.4 L154.5 935.4 L155.1 935.4 L155.6 935.4 L156.2 935.4 L156.7 935.4 L157.3 935.4 L157.8 935.4 L158.4 935.4 L158.9 935.4 L159.4 935.4 L160.0 935.4 L160.5 935.4 L161.1 935.4 L161.6 935.4 L162.2 935.4 L162.7 935.3 L163.3 935.3 L163.8 935.3 L164.3 935.3 L164.9 935.3 L165.4 935.3 L166.0 935.3 L166.5 935.3 L167.1 935.3 L167.6 935.3 L168.2 935.3 L168.7 935.3 L169.2 935.2 L169.8 935.2 L170.3 935.2 L170.9 935.2 L171.4 935.2 L172.0 935.2 L172.5 935.2 L173.1 935.2 L173.6 935.2 L174.1 935.2 L174.7 935.2 L175.2 935.1 L175.8 935.1 L176.3 935.1 L176.9 935.1 L177.4 935.1 L178.0 935.1 L178.5 935.1 L179.0 935.1 L179.6 935.0 L180.1 935.0 L180.7 935.0 L181.2 935.0 L181.8 935.0 L182.3 935.0 L182.9 934.9 L183.4 934.9 L183.9 934.9 L184.5 934.9 L185.0 934.9 L185.6 934.8 L186.1 934.8 L186.7 934.8 L187.2 934.8 L187.8 934.8 L188.3 934.7 L188.9 934.7 L189.4 934.7 L189.9 934.7 L190.5 934.6 L191.0 934.6 L191.6 934.6 L192.1 934.6 L192.7 934.5 L193.2 934.5 L193.8 934.5 L194.3 934.5 L194.8 934.4 L195.4 934.4 L195.9 934.4 L196.5 934.4 L197.0 934.3 L197.6 934.3 L198.1 934.3 L198.7 934.3 L199.2 934.2 L199.7 934.2 L200.3 934.2 L200.8 934.2 L201.4 934.1 L201.9 934.1 L202.5 934.1 L203.0 934.1 L203.6 934.1 L204.1 934.0 L204.6 934.0 L205.2 934.0 L205.7 934.0 L206.3 934.0 L206.8 934.0 L207.4 933.9 L207.9 933.9 L208.5 933.9 L209.0 933.9 L209.5 933.9 L210.1 933.9 L210.6 933.9 L211.2 933.9 L211.7 933.9 L212.3 933.9 L212.8 933.8 L213.4 933.8 L213.9 933.8 L214.4 933.8 L215.0 933.8 L215.5 933.8 L216.1 933.8 L216.6 933.7 L217.2 933.7 L217.7 933.7 L218.3 933.6 L218.8 933.6 L219.3 933.5 L219.9 933.5 L220.4 933.5 L221.0 933.4 L221.5 933.4 L222.1 933.3 L222.6 933.3 L223.2 933.2 L223.7 933.2 L224.3 933.1 L224.8 933.1 L225.3 933.1 L225.9 933.1 L226.4 933.1 L227.0 933.0 L227.5 933.1 L228.1 933.1 L228.6 933.1 L229.2 933.1 L229.7 933.2 L230.2 933.2 L230.8 933.3 L231.3 933.3 L231.9 933.4 L232.4 933.5 L233.0 933.5 L233.5 933.6 L234.1 933.7 L234.6 933.7 L235.1 933.8 L235.7 933.9 L236.2 933.9 L236.8 934.0 L237.3 934.0 L237.9 934.1 L238.4 934.1 L239.0 934.2 L239.5 934.2 L240.0 934.2 L240.6 934.2 L241.1 934.3 L241.7 934.3 L242.2 934.3 L242.8 934.3 L243.3 934.3 L243.9 934.3 L244.4 934.4 L244.9 934.4 L245.5 934.4 L246.0 934.4 L246.6 934.4 L247.1 934.4 L247.7 934.5 L248.2 934.5 L248.8 934.5 L249.3 934.5 L249.8 934.6 L250.4 934.6 L250.9 934.6 L251.5 934.7 L252.0 934.7 L252.6 934.8 L253.1 934.8 L253.7 934.8 L254.2 934.9 L254.7 934.9 L255.3 935.0 L255.8 935.0 L256.4 935.0 L256.9 935.1 L257.5 935.1 L258.0 935.1 L258.6 935.2 L259.1 935.2 L259.7 935.2 L260.2 935.2 L260.7 935.3 L261.3 935.3 L261.8 935.3 L262.4 935.3 L262.9 935.3 L263.5 935.4 L264.0 935.4 L264.6 935.4 L265.1 935.4 L265.6 935.4 L266.2 935.4 L266.7 935.4 L267.3 935.4 L267.8 935.4 L268.4 935.4 L268.9 935.4 L269.5 935.5 L270.0 935.5 L270.5 935.5 L271.1 935.5 L271.6 935.5 L272.2 935.5 L272.7 935.5 L273.3 935.5 L273.8 935.5 L274.4 935.5 L274.9 935.5 L275.4 935.5 L276.0 935.5 L276.5 935.5 L277.1 935.4 L277.6 935.4 L278.2 935.4 L278.7 935.4 L279.3 935.4 L279.8 935.4 L280.3 935.4 L280.9 935.4 L281.4 935.4 L282.0 935.4 L282.5 935.3 L283.1 935.3 L283.6 935.3 L284.2 935.2 L284.7 935.2 L285.2 935.1 L285.8 935.1 L286.3 935.0 L286.9 934.9 L287.4 934.9 L288.0 934.8 L288.5 934.6 L289.1 934.5 L289.6 934.3 L290.2 934.2 L290.7 934.0 L291.2 933.7 L291.8 933.5 L292.3 933.2 L292.9 932.9 L293.4 932.5 L294.0 932.1 L294.5 931.7 L295.1 931.2 L295.6 930.6 L296.1 930.1 L296.7 929.4 L297.2 928.7 L297.8 928.0 L298.3 927.2 L298.9 926.3 L299.4 925.4 L300.0 924.5 L300.5 923.5 L301.0 922.4 L301.6 921.3 L302.1 920.1 L302.7 918.9 L303.2 917.7 L303.8 916.4 L304.3 915.1 L304.9 913.7 L305.4 912.3 L305.9 910.8 L306.5 909.3 L307.0 907.7 L307.6 906.1 L308.1 904.5 L308.7 902.8 L309.2 901.0 L309.8 899.2 L310.3 897.3 L310.8 895.3 L311.4 893.3 L311.9 891.2 L312.5 889.1 L313.0 886.8 L313.6 884.5 L314.1 882.1 L314.7 879.6 L315.2 877.0 L315.7 874.4 L316.3 871.6 L316.8 868.7 L317.4 865.8 L317.9 862.7 L318.5 859.5 L319.0 856.2 L319.6 852.7 L320.1 849.1 L320.6 845.4 L321.2 841.6 L321.7 837.6 L322.3 833.4 L322.8 829.1 L323.4 824.6 L323.9 820.0 L324.5 815.2 L325.0 810.3 L325.6 805.2 L326.1 800.0 L326.6 794.7 L327.2 789.3 L327.7 783.8 L328.3 778.3 L328.8 772.7 L329.4 767.0 L329.9 761.3 L330.5 755.6 L331.0 750.0 L331.5 744.4 L332.1 738.9 L332.6 733.5 L333.2 728.2 L333.7 723.0 L334.3 718.0 L334.8 713.2 L335.4 708.5 L335.9 704.0 L336.4 699.6 L337.0 695.3 L337.5 691.2 L338.1 687.3 L338.6 683.4 L339.2 679.8 L339.7 676.2 L340.3 672.8 L340.8 669.5 L341.3 666.2 L341.9 663.1 L342.4 660.1 L343.0 657.2 L343.5 654.3 L344.1 651.5 L344.6 648.8 L345.2 646.1 L345.7 643.5 L346.2 641.0 L346.8 638.6 L347.3 636.2 L347.9 634.0 L348.4 631.8 L349.0 629.7 L349.5 627.7 L350.1 625.8 L350.6 624.0 L351.1 622.4 L351.7 620.8 L352.2 619.3 L352.8 617.9 L353.3 616.7 L353.9 615.6 L354.4 614.5 L355.0 613.6 L355.5 612.8 L356.0 612.2 L356.6 611.6 L357.1 611.2 L357.7 610.9 L358.2 610.8 L358.8 610.7 L359.3 610.8 L359.9 611.0 L360.4 611.3 L361.0 611.7 L361.5 612.3 L362.0 613.0 L362.6 613.8 L363.1 614.8 L363.7 615.9 L364.2 617.1 L364.8 618.4 L365.3 619.8 L365.9 621.4 L366.4 623.2 L366.9 625.1 L367.5 627.3 L368.0 629.6 L368.6 632.1 L369.1 634.9 L369.7 637.9 L370.2 641.1 L370.8 644.6 L371.3 648.3 L371.8 652.3 L372.4 656.6 L372.9 661.2 L373.5 666.0 L374.0 671.1 L374.6 676.5 L375.1 682.1 L375.7 688.0 L376.2 694.2 L376.7 700.4 L377.3 706.8 L377.8 713.3 L378.4 719.8 L378.9 726.3 L379.5 732.8 L380.0 739.2 L380.6 745.6 L381.1 751.8 L381.6 757.8 L382.2 763.8 L382.7 769.5 L383.3 775.0 L383.8 780.4 L384.4 785.5 L384.9 790.3 L385.5 795.0 L386.0 799.4 L386.5 803.5 L387.1 807.5 L387.6 811.3 L388.2 814.9 L388.7 818.5 L389.3 821.9 L389.8 825.2 L390.4 828.4 L390.9 831.5 L391.5 834.6 L392.0 837.7 L392.5 840.7 L393.1 843.7 L393.6 846.7 L394.2 849.7 L394.7 852.7 L395.3 855.7 L395.8 858.7 L396.4 861.8 L396.9 864.8 L397.4 867.8 L398.0 870.8 L398.5 873.8 L399.1 876.7 L399.6 879.6 L400.2 882.4 L400.7 885.2 L401.3 887.8 L401.8 890.5 L402.3 893.0 L402.9 895.4 L403.4 897.8 L404.0 900.0 L404.5 902.2 L405.1 904.3 L405.6 906.2 L406.2 908.1 L406.7 909.9 L407.2 911.6 L407.8 913.2 L408.3 914.7 L408.9 916.1 L409.4 917.5 L410.0 918.8 L410.5 920.0 L411.1 921.2 L411.6 922.2 L412.1 923.3 L412.7 924.2 L413.2 925.1 L413.8 926.0 L414.3 926.8 L414.9 927.5 L415.4 928.2 L416.0 928.9 L416.5 929.5 L417.0 930.0 L417.6 930.5 L418.1 931.0 L418.7 931.5 L419.2 931.9 L419.8 932.3 L420.3 932.6 L420.9 932.9 L421.4 933.2 L421.9 933.5 L422.5 933.7 L423.0 933.9 L423.6 934.1 L424.1 934.2 L424.7 934.4 L425.2 934.5 L425.8 934.6 L426.3 934.7 L426.9 934.8 L427.4 934.9 L427.9 934.9 L428.5 935.0 L429.0 935.0 L429.6 935.1 L430.1 935.1 L430.7 935.2 L431.2 935.2 L431.8 935.2 L432.3 935.2 L432.8 935.3 L433.4 935.3 L433.9 935.3 L434.5 935.3 L435.0 935.3 L435.6 935.3 L436.1 935.3 L436.7 935.3 L437.2 935.3 L437.7 935.4 L438.3 935.4 L438.8 935.4 L439.4 935.4 L439.9 935.4 L440.5 935.4 L441.0 935.4 L441.6 935.4 L442.1 935.4 L442.6 935.4 L443.2 935.4 L443.7 935.4 L444.3 935.4 L444.8 935.4 L445.4 935.4 L445.9 935.4 L446.5 935.4 L447.0 935.4 L447.5 935.4 L448.1 935.4 L448.6 935.4 L449.2 935.4 L449.7 935.4 L450.3 935.4 L450.8 935.4 L451.4 935.3 L451.9 935.3 L452.4 935.3 L453.0 935.3 L453.5 935.3 L454.1 935.3 L454.6 935.3 L455.2 935.2 L455.7 935.2 L456.3 935.2 L456.8 935.2 L457.4 935.2 L457.9 935.1 L458.4 935.1 L459.0 935.1 L459.5 935.1 L460.1 935.0 L460.6 935.0 L461.2 935.0 L461.7 934.9 L462.3 934.9 L462.8 934.9 L463.3 934.8 L463.9 934.8 L464.4 934.8 L465.0 934.7 L465.5 934.7 L466.1 934.6 L466.6 934.6 L467.2 934.5 L467.7 934.5 L468.2 934.4 L468.8 934.3 L469.3 934.3 L469.9 934.2 L470.4 934.1 L471.0 934.0 L471.5 933.9 L472.1 933.8 L472.6 933.7 L473.1 933.6 L473.7 933.5 L474.2 933.4 L474.8 933.3 L475.3 933.2 L475.9 933.0 L476.4 932.9 L477.0 932.8 L477.5 932.7 L478.0 932.6 L478.6 932.5 L479.1 932.4 L479.7 932.3 L480.2 932.2 L480.8 932.1 L481.3 932.0 L481.9 932.0 L482.4 931.9 L482.9 931.9 L483.5 931.9 L484.0 931.9 L484.6 931.8 L485.1 931.8 L485.7 931.8 L486.2 931.8 L486.8 931.8 L487.3 931.8 L487.8 931.8 L488.4 931.9 L488.9 931.9 L489.5 931.9 L490.0 931.9 L490.6 931.9 L491.1 931.9 L491.7 931.9 L492.2 931.9 L492.8 931.9 L493.3 931.9 L493.8 931.9 L494.4 931.9 L494.9 931.9 L495.5 931.9 L496.0 931.9 L496.6 931.9 L497.1 931.9 L497.7 931.9 L498.2 931.9 L498.7 931.9 L499.3 931.8 L499.8 931.8 L500.4 931.8 L500.9 931.8 L501.5 931.8 L502.0 931.8 L502.6 931.8 L503.1 931.8 L503.6 931.8 L504.2 931.8 L504.7 931.8 L505.3 931.8 L505.8 931.8 L506.4 931.8 L506.9 931.8 L507.5 931.8 L508.0 931.9 L508.5 931.9 L509.1 932.0 L509.6 932.0 L510.2 932.1 L510.7 932.1 L511.3 932.2 L511.8 932.3 L512.4 932.4 L512.9 932.5 L513.4 932.6 L514.0 932.6 L514.5 932.7 L515.1 932.8 L515.6 932.9 L516.2 933.0 L516.7 933.1 L517.3 933.2 L517.8 933.3 L518.3 933.4 L518.9 933.5 L519.4 933.6 L520.0 933.7 L520.5 933.7 L521.1 933.8 L521.6 933.9 L522.2 933.9 L522.7 934.0 L523.2 934.0 L523.8 934.0 L524.3 934.1 L524.9 934.1 L525.4 934.2 L526.0 934.2 L526.5 934.2 L527.1 934.3 L527.6 934.3 L528.2 934.3 L528.7 934.3 L529.2 934.4 L529.8 934.4 L530.3 934.4 L530.9 934.5 L531.4 934.5 L532.0 934.5 L532.5 934.6 L533.1 934.6 L533.6 934.6 L534.1 934.7 L534.7 934.7 L535.2 934.8 L535.8 934.8 L536.3 934.8 L536.9 934.9 L537.4 934.9 L538.0 934.9 L538.5 935.0 L539.0 935.0 L539.6 935.0 L540.1 935.0 L540.7 935.1 L541.2 935.1 L541.8 935.1 L542.3 935.1 L542.9 935.2 L543.4 935.2 L543.9 935.2 L544.5 935.2 L545.0 935.2 L545.6 935.2 L546.1 935.3 L546.7 935.3 L547.2 935.3 L547.8 935.3 L548.3 935.3 L548.8 935.3 L549.4 935.3 L549.9 935.3 L550.5 935.3 L551.0 935.3 L551.6 935.3 L552.1 935.4 L552.7 935.4 L553.2 935.4 L553.7 935.4 L554.3 935.4 L554.8 935.4 L555.4 935.4 L555.9 935.4 L556.5 935.4 L557.0 935.4 L557.6 935.4 L558.1 935.4 L558.7 935.4 L559.2 935.4 L559.7 935.4 L560.3 935.4 L560.8 935.4 L561.4 935.4 L561.9 935.4 L562.5 935.4 L563.0 935.4 L563.6 935.4 L564.1 935.4 L564.6 935.4 L565.2 935.4 L565.7 935.4 L566.3 935.5 L566.8 935.5 L567.4 935.5 L567.9 935.5 L568.5 935.5 L569.0 935.5 L569.5 935.5 L570.1 935.5 L570.6 935.5 L571.2 935.5 L571.7 935.5 L572.3 935.5 L572.8 935.5 L573.4 935.5 L573.9 935.5" stroke="#0000ff" stroke-width="4.4"/>
</g>
</g>
<g id="panel-c">
<path d="M1010.4 610.7 V935.5 M1134.9 610.7 V935.5 M1259.4 610.7 V935.5 M885.9 773.1 H1321.6" stroke="#dfdfdf" stroke-width="4.5" fill="none"/>
<path d="M885.9 935.5 v-6.6 M885.9 610.7 v6.6 M1010.4 935.5 v-6.6 M1010.4 610.7 v6.6 M1134.9 935.5 v-6.6 M1134.9 610.7 v6.6 M1259.4 935.5 v-6.6 M1259.4 610.7 v6.6 M885.9 610.7 h6.6 M1321.6 610.7 h-6.6 M885.9 773.1 h6.6 M1321.6 773.1 h-6.6 M885.9 935.5 h6.6 M1321.6 935.5 h-6.6" stroke="#262626" stroke-width="4.7" fill="none"/>
<rect x="885.9" y="610.7" width="435.7" height="324.8" fill="none" stroke="#262626" stroke-width="4.7"/>
<g clip-path="url(#cc)" fill="none" stroke-linejoin="round" stroke-width="4.4">
<path d="M885.9 935.3 L930.0 935.3 L940.0 933.6 L949.9 932.6 L957.0 933.6 L962.2 935.4 L969.2 934.9 L975.3 931.4 L979.7 933.1 L984.9 929.6 L990.2 928.7 L995.4 919.1 L1000.7 894.6 L1005.9 884.1 L1013.8 871.9 L1018.1 843.9 L1021.6 821.2 L1026.0 789.7 L1029.8 759.0 L1033.4 739.9 L1037.8 704.9 L1042.2 669.9 L1045.7 643.7 L1051.8 626.2 L1057.9 659.5 L1065.5 690.0 L1073.2 730.5 L1077.4 757.4 L1082.6 785.0 L1087.8 803.0 L1094.2 814.6 L1101.2 802.4 L1103.8 781.4 L1106.4 760.4 L1112.8 736.5 L1117.5 703.0 L1120.8 665.6 L1122.8 638.0 L1128.7 627.5 L1134.6 612.5 L1138.5 610.8 L1141.8 626.2 L1144.2 665.0 L1147.6 703.5 L1151.0 737.5 L1157.6 760.4 L1161.8 796.0 L1167.5 813.6 L1176.5 812.0 L1183.2 844.0 L1188.5 877.2 L1193.7 887.7 L1199.0 898.0 L1204.0 903.0 L1209.5 906.9 L1214.7 912.2 L1218.2 916.5 L1225.2 919.2 L1232.2 928.8 L1241.0 933.2 L1248.0 934.6 L1256.5 932.2 L1264.0 935.1 L1305.0 935.3 L1314.4 933.2 L1321.6 935.0" stroke="#00ff00"/>
<path d="M885.9 935.3 L945.0 935.2 L956.9 934.9 L967.4 932.2 L976.2 926.1 L981.4 917.4 L984.9 909.5 L991.0 906.9 L995.4 892.9 L998.9 868.4 L1002.4 845.7 L1008.5 843.1 L1013.8 829.9 L1019.9 803.7 L1024.3 777.5 L1027.4 760.0 L1029.9 739.9 L1041.3 740.8 L1045.7 704.9 L1051.8 690.0 L1056.8 726.5 L1062.1 759.4 L1072.3 779.7 L1079.3 803.3 L1086.3 805.0 L1092.5 818.1 L1096.8 831.3 L1102.1 828.6 L1110.8 816.4 L1118.7 798.9 L1123.9 779.7 L1127.6 742.5 L1130.9 715.0 L1133.8 679.3 L1137.2 632.8 L1139.8 610.8 L1145.1 623.6 L1151.0 651.1 L1155.6 639.3 L1158.2 659.0 L1161.5 686.0 L1164.5 725.0 L1166.2 755.0 L1167.8 789.9 L1172.8 814.4 L1177.8 795.2 L1181.1 823.0 L1185.0 844.0 L1192.0 873.7 L1199.9 906.9 L1206.0 917.4 L1211.2 924.4 L1218.2 927.0 L1227.0 933.2 L1235.7 934.9 L1321.6 935.2" stroke="#ff0000"/>
<path d="M885.9 933.2 L886.6 933.2 L887.4 933.1 L888.1 933.1 L888.8 933.0 L889.5 932.9 L890.3 932.9 L891.0 932.8 L891.7 932.8 L892.4 932.7 L893.2 932.6 L893.9 932.6 L894.6 932.5 L895.4 932.4 L896.1 932.3 L896.8 932.3 L897.5 932.2 L898.3 932.1 L899.0 932.0 L899.7 931.9 L900.4 931.8 L901.2 931.6 L901.9 931.5 L902.6 931.4 L903.4 931.2 L904.1 931.1 L904.8 931.0 L905.5 930.9 L906.3 930.8 L907.0 930.7 L907.7 930.6 L908.4 930.5 L909.2 930.5 L909.9 930.5 L910.6 930.5 L911.4 930.6 L912.1 930.7 L912.8 930.7 L913.5 930.9 L914.3 931.0 L915.0 931.1 L915.7 931.3 L916.4 931.4 L917.2 931.6 L917.9 931.7 L918.6 931.9 L919.4 932.0 L920.1 932.2 L920.8 932.3 L921.5 932.5 L922.3 932.6 L923.0 932.8 L923.7 933.0 L924.5 933.2 L925.2 933.4 L925.9 933.5 L926.6 933.7 L927.4 933.8 L928.1 933.9 L928.8 934.0 L929.5 934.0 L930.3 934.0 L931.0 933.8 L931.7 933.6 L932.5 933.3 L933.2 933.0 L933.9 932.6 L934.6 932.2 L935.4 931.7 L936.1 931.3 L936.8 930.9 L937.5 930.6 L938.3 930.3 L939.0 929.9 L939.7 929.6 L940.5 929.2 L941.2 928.9 L941.9 928.5 L942.6 928.2 L943.4 927.9 L944.1 927.6 L944.8 927.4 L945.5 927.2 L946.3 927.0 L947.0 926.9 L947.7 926.8 L948.5 926.7 L949.2 926.6 L949.9 926.6 L950.6 926.5 L951.4 926.4 L952.1 926.4 L952.8 926.3 L953.5 926.3 L954.3 926.2 L955.0 926.1 L955.7 926.0 L956.5 926.0 L957.2 925.9 L957.9 925.9 L958.6 925.8 L959.4 925.8 L960.1 925.7 L960.8 925.6 L961.5 925.6 L962.3 925.5 L963.0 925.4 L963.7 925.2 L964.5 925.0 L965.2 924.6 L965.9 924.0 L966.6 923.2 L967.4 922.4 L968.1 921.4 L968.8 920.4 L969.5 919.3 L970.3 918.3 L971.0 917.3 L971.7 916.2 L972.5 915.1 L973.2 913.9 L973.9 912.7 L974.6 911.4 L975.4 910.1 L976.1 908.7 L976.8 907.3 L977.5 905.8 L978.3 904.3 L979.0 902.7 L979.7 901.0 L980.5 899.3 L981.2 897.5 L981.9 895.6 L982.6 893.7 L983.4 891.7 L984.1 889.8 L984.8 887.8 L985.6 885.8 L986.3 883.8 L987.0 881.7 L987.7 879.6 L988.5 877.4 L989.2 875.2 L989.9 873.0 L990.6 870.7 L991.4 868.4 L992.1 866.1 L992.8 863.7 L993.6 861.3 L994.3 858.8 L995.0 856.3 L995.7 853.7 L996.5 851.1 L997.2 848.5 L997.9 845.8 L998.6 843.2 L999.4 840.4 L1000.1 837.6 L1000.8 834.8 L1001.6 831.9 L1002.3 828.9 L1003.0 826.0 L1003.7 823.0 L1004.5 820.0 L1005.2 817.1 L1005.9 814.1 L1006.6 811.2 L1007.4 808.3 L1008.1 805.5 L1008.8 802.6 L1009.6 799.7 L1010.3 796.8 L1011.0 793.9 L1011.7 791.0 L1012.5 788.0 L1013.2 785.0 L1013.9 782.0 L1014.6 779.1 L1015.4 776.1 L1016.1 773.1 L1016.8 770.0 L1017.6 766.9 L1018.3 763.7 L1019.0 760.3 L1019.7 756.8 L1020.5 753.0 L1021.2 748.9 L1021.9 744.9 L1022.6 741.1 L1023.4 737.7 L1024.1 734.5 L1024.8 731.4 L1025.6 728.5 L1026.3 725.6 L1027.0 722.7 L1027.7 720.0 L1028.5 717.2 L1029.2 714.5 L1029.9 711.8 L1030.6 709.1 L1031.4 706.3 L1032.1 703.5 L1032.8 700.7 L1033.6 698.0 L1034.3 695.4 L1035.0 693.0 L1035.7 690.7 L1036.5 688.5 L1037.2 686.6 L1037.9 684.8 L1038.6 682.9 L1039.4 681.1 L1040.1 679.4 L1040.8 677.9 L1041.6 676.4 L1042.3 675.2 L1043.0 674.2 L1043.7 673.5 L1044.5 673.0 L1045.2 672.5 L1045.9 672.1 L1046.7 671.7 L1047.4 671.4 L1048.1 671.1 L1048.8 670.9 L1049.6 670.8 L1050.3 670.8 L1051.0 671.1 L1051.7 671.5 L1052.5 672.2 L1053.2 673.0 L1053.9 674.0 L1054.7 675.1 L1055.4 676.2 L1056.1 677.4 L1056.8 678.6 L1057.6 679.9 L1058.3 681.5 L1059.0 683.3 L1059.7 685.3 L1060.5 687.5 L1061.2 689.8 L1061.9 692.3 L1062.7 694.8 L1063.4 697.3 L1064.1 699.9 L1064.8 702.5 L1065.6 705.1 L1066.3 707.8 L1067.0 710.6 L1067.7 713.4 L1068.5 716.4 L1069.2 719.5 L1069.9 722.7 L1070.7 726.0 L1071.4 729.5 L1072.1 733.0 L1072.8 736.9 L1073.6 741.1 L1074.3 745.5 L1075.0 750.0 L1075.7 754.5 L1076.5 759.0 L1077.2 763.5 L1077.9 767.7 L1078.7 771.7 L1079.4 775.6 L1080.1 779.4 L1080.8 783.2 L1081.6 786.9 L1082.3 790.5 L1083.0 794.1 L1083.7 797.6 L1084.5 801.1 L1085.2 804.5 L1085.9 807.9 L1086.7 811.4 L1087.4 815.0 L1088.1 818.4 L1088.8 821.7 L1089.6 824.7 L1090.3 827.3 L1091.0 829.5 L1091.7 831.7 L1092.5 833.8 L1093.2 835.7 L1093.9 837.4 L1094.7 838.8 L1095.4 839.7 L1096.1 840.1 L1096.8 840.3 L1097.6 840.5 L1098.3 840.6 L1099.0 840.7 L1099.7 840.8 L1100.5 840.9 L1101.2 840.9 L1101.9 840.5 L1102.7 839.6 L1103.4 838.0 L1104.1 836.1 L1104.8 833.8 L1105.6 831.3 L1106.3 828.7 L1107.0 826.1 L1107.8 823.4 L1108.5 820.2 L1109.2 816.6 L1109.9 812.7 L1110.7 808.4 L1111.4 804.1 L1112.1 799.6 L1112.8 795.2 L1113.6 790.9 L1114.3 786.6 L1115.0 782.2 L1115.8 777.8 L1116.5 773.2 L1117.2 768.6 L1117.9 763.8 L1118.7 759.0 L1119.4 754.0 L1120.1 748.8 L1120.8 743.5 L1121.6 738.1 L1122.3 732.6 L1123.0 727.1 L1123.8 721.5 L1124.5 715.9 L1125.2 710.1 L1125.9 704.4 L1126.7 698.7 L1127.4 693.1 L1128.1 687.4 L1128.8 681.8 L1129.6 676.3 L1130.3 670.8 L1131.0 665.6 L1131.8 660.6 L1132.5 655.8 L1133.2 651.1 L1133.9 646.3 L1134.7 641.8 L1135.4 637.6 L1136.1 633.7 L1136.8 630.3 L1137.6 627.5 L1138.3 624.9 L1139.0 622.5 L1139.8 620.4 L1140.5 618.5 L1141.2 616.8 L1141.9 615.5 L1142.7 614.2 L1143.4 613.0 L1144.1 611.9 L1144.8 611.1 L1145.6 610.8 L1146.3 610.8 L1147.0 611.0 L1147.8 611.2 L1148.5 611.5 L1149.2 611.9 L1149.9 612.4 L1150.7 612.9 L1151.4 613.5 L1152.1 614.6 L1152.8 616.2 L1153.6 618.3 L1154.3 620.6 L1155.0 623.2 L1155.8 625.9 L1156.5 628.6 L1157.2 631.4 L1157.9 634.6 L1158.7 638.2 L1159.4 642.0 L1160.1 646.1 L1160.8 650.4 L1161.6 654.6 L1162.3 658.9 L1163.0 663.2 L1163.8 667.7 L1164.5 672.3 L1165.2 677.0 L1165.9 681.9 L1166.7 686.8 L1167.4 691.8 L1168.1 696.8 L1168.9 702.0 L1169.6 707.3 L1170.3 712.7 L1171.0 718.2 L1171.8 723.7 L1172.5 729.4 L1173.2 735.1 L1173.9 741.1 L1174.7 747.3 L1175.4 753.5 L1176.1 759.4 L1176.9 765.0 L1177.6 770.4 L1178.3 775.6 L1179.0 780.8 L1179.8 785.9 L1180.5 790.9 L1181.2 795.8 L1181.9 800.7 L1182.7 805.5 L1183.4 810.3 L1184.1 815.1 L1184.9 819.9 L1185.6 824.6 L1186.3 829.3 L1187.0 833.8 L1187.8 838.2 L1188.5 842.4 L1189.2 846.5 L1189.9 850.4 L1190.7 854.3 L1191.4 858.0 L1192.1 861.7 L1192.9 865.3 L1193.6 868.8 L1194.3 872.1 L1195.0 875.2 L1195.8 878.2 L1196.5 881.0 L1197.2 883.7 L1197.9 886.4 L1198.7 888.9 L1199.4 891.3 L1200.1 893.6 L1200.9 895.7 L1201.6 897.7 L1202.3 899.5 L1203.0 901.1 L1203.8 902.7 L1204.5 904.2 L1205.2 905.6 L1205.9 906.9 L1206.7 908.2 L1207.4 909.3 L1208.1 910.4 L1208.9 911.4 L1209.6 912.3 L1210.3 913.1 L1211.0 913.9 L1211.8 914.6 L1212.5 915.3 L1213.2 916.0 L1213.9 916.6 L1214.7 917.1 L1215.4 917.6 L1216.1 918.1 L1216.9 918.5 L1217.6 918.9 L1218.3 919.2 L1219.0 919.5 L1219.8 919.8 L1220.5 920.1 L1221.2 920.3 L1221.9 920.6 L1222.7 920.9 L1223.4 921.1 L1224.1 921.4 L1224.9 921.7 L1225.6 922.0 L1226.3 922.3 L1227.0 922.6 L1227.8 922.9 L1228.5 923.2 L1229.2 923.5 L1230.0 923.9 L1230.7 924.2 L1231.4 924.5 L1232.1 924.8 L1232.9 925.1 L1233.6 925.4 L1234.3 925.7 L1235.0 926.0 L1235.8 926.2 L1236.5 926.5 L1237.2 926.8 L1238.0 927.1 L1238.7 927.3 L1239.4 927.6 L1240.1 927.9 L1240.9 928.1 L1241.6 928.4 L1242.3 928.5 L1243.0 928.7 L1243.8 928.8 L1244.5 928.8 L1245.2 928.8 L1246.0 928.7 L1246.7 928.6 L1247.4 928.5 L1248.1 928.3 L1248.9 928.1 L1249.6 927.9 L1250.3 927.7 L1251.0 927.5 L1251.8 927.3 L1252.5 927.2 L1253.2 927.0 L1254.0 926.8 L1254.7 926.7 L1255.4 926.5 L1256.1 926.3 L1256.9 926.1 L1257.6 925.9 L1258.3 925.8 L1259.0 925.6 L1259.8 925.5 L1260.5 925.4 L1261.2 925.3 L1262.0 925.3 L1262.7 925.3 L1263.4 925.3 L1264.1 925.3 L1264.9 925.4 L1265.6 925.4 L1266.3 925.5 L1267.0 925.5 L1267.8 925.6 L1268.5 925.6 L1269.2 925.7 L1270.0 925.8 L1270.7 925.8 L1271.4 925.9 L1272.1 925.9 L1272.9 926.0 L1273.6 926.0 L1274.3 926.1 L1275.0 926.1 L1275.8 926.2 L1276.5 926.2 L1277.2 926.2 L1278.0 926.2 L1278.7 926.2 L1279.4 926.1 L1280.1 926.0 L1280.9 925.8 L1281.6 925.7 L1282.3 925.5 L1283.0 925.3 L1283.8 925.1 L1284.5 924.9 L1285.2 924.7 L1286.0 924.5 L1286.7 924.4 L1287.4 924.2 L1288.1 924.1 L1288.9 924.0 L1289.6 923.9 L1290.3 923.8 L1291.1 923.7 L1291.8 923.6 L1292.5 923.5 L1293.2 923.4 L1294.0 923.4 L1294.7 923.3 L1295.4 923.2 L1296.1 923.2 L1296.9 923.2 L1297.6 923.2 L1298.3 923.3 L1299.1 923.4 L1299.8 923.5 L1300.5 923.7 L1301.2 923.9 L1302.0 924.1 L1302.7 924.3 L1303.4 924.5 L1304.1 924.8 L1304.9 925.0 L1305.6 925.3 L1306.3 925.5 L1307.1 925.8 L1307.8 926.1 L1308.5 926.5 L1309.2 926.9 L1310.0 927.3 L1310.7 927.7 L1311.4 928.1 L1312.1 928.5 L1312.9 928.9 L1313.6 929.3 L1314.3 929.7 L1315.1 930.0 L1315.8 930.4 L1316.5 930.8 L1317.2 931.1 L1318.0 931.5 L1318.7 931.8 L1319.4 932.2 L1320.1 932.6 L1320.9 932.9 L1321.6 933.3" stroke="#0000ff"/>
</g>
</g>
<g id="legend-a">
<rect x="421.4" y="81.4" width="393.2" height="83.6" fill="#fff" stroke="#262626" stroke-width="4.7" stroke-linejoin="round"/>
<circle cx="499.2" cy="104.9" r="13" fill="none" stroke="#0000ff" stroke-width="3.5"/>
<path d="M434.1 141.1 H564" stroke="#0000ff" stroke-width="2.8"/>
<text x="574" y="116.7" font-size="31" fill="#000">Beamlets CC data</text>
<text x="574" y="153.5" font-size="31" fill="#000">Interpolation</text>
</g>
<g id="legend-b">
<rect x="408.2" y="561.9" width="366.9" height="165.5" fill="#fff" stroke="#262626" stroke-width="4.7" stroke-linejoin="round"/>
<path d="M420.7 586.1 H551.1" stroke="#00ff00" stroke-width="9.2"/>
<path d="M420.7 623.1 H551.1" stroke="#ff0000" stroke-width="4.6" stroke-dasharray="32.5 19.5"/>
<path d="M420.7 660.2 H551.1" stroke="#ff0000" stroke-width="4.4"/>
<path d="M420.7 700.4 H551.1" stroke="#0000ff" stroke-width="4.4"/>
<text x="561" y="597.4" font-size="31.2" word-spacing="0.8" fill="#000">Ocean Sp. TL</text>
<text x="561" y="634.2" font-size="31.2" word-spacing="0.8" fill="#000">Wizzler Meas.</text>
<text x="561" y="671.2" font-size="31.2" word-spacing="0.8" fill="#000">Wizzler TL</text>
<text x="560.5" y="717.5" font-size="31.2" word-spacing="0.8" fill="#000">[Beamlets CC]<tspan dx="1" dy="-12.2" font-size="24.8">4</tspan></text>
</g>
<g id="legend-c">
<rect x="1214.7" y="562.0" width="383.3" height="123.2" fill="#fff" stroke="#262626" stroke-width="4.7" stroke-linejoin="round"/>
<path d="M1227 586.2 H1357.5" stroke="#00ff00" stroke-width="4.4"/>
<path d="M1227 623.5 H1357.5" stroke="#ff0000" stroke-width="4.4"/>
<path d="M1227 661.2 H1357.5" stroke="#0000ff" stroke-width="4.4"/>
<text x="1367.5" y="597.5" font-size="31" fill="#000">Ocean Sp.</text>
<text x="1367.5" y="635.5" font-size="31" fill="#000">Wizzler</text>
<text x="1375" y="675" font-size="31" fill="#000"><tspan font-style="italic">F</tspan><tspan dx="3">[Beamlets CC]</tspan></text>
</g>
<g id="ticks" fill="#262626" font-size="35.5">
<text x="218.7" y="462.0" text-anchor="middle">-50</text>
<text x="354.8" y="462.0" text-anchor="middle">0</text>
<text x="491.0" y="462.0" text-anchor="middle">50</text>
<text x="218.7" y="975.5" text-anchor="middle">-50</text>
<text x="354.8" y="975.5" text-anchor="middle">0</text>
<text x="491.0" y="975.5" text-anchor="middle">50</text>
<text x="885.9" y="975.5" text-anchor="middle">340</text>
<text x="1010.4" y="975.5" text-anchor="middle">360</text>
<text x="1134.9" y="975.5" text-anchor="middle">380</text>
<text x="1259.4" y="975.5" text-anchor="middle">400</text>
<text x="129.3" y="109.3" text-anchor="end">1</text>
<text x="129.3" y="271.7" text-anchor="end">0.5</text>
<text x="129.3" y="434.1" text-anchor="end">0</text>
<text x="129.3" y="622.8" text-anchor="end">1</text>
<text x="129.3" y="785.2" text-anchor="end">0.5</text>
<text x="129.3" y="947.6" text-anchor="end">0</text>
<text x="877.0" y="622.8" text-anchor="end">1</text>
<text x="877.0" y="785.2" text-anchor="end">0.5</text>
<text x="877.0" y="947.6" text-anchor="end">0</text>
</g>
<g id="labels" fill="#262626" font-size="38.4" text-anchor="middle">
<text x="355.8" y="507.2">Time (fs)</text>
<text x="355.8" y="1020.7">Time (fs)</text>
<text x="1102.1" y="1020.2">Frequency (THz)</text>
<text transform="translate(26.7 260.7) rotate(-90)">Norm. Beamlets CC</text>
<text transform="translate(71.6 260.5) rotate(-90)">(arb. un.)</text>
<text transform="translate(71.5 774.2) rotate(-90)">Intensity (arb. un.)</text>
<text transform="translate(819.2 774.2) rotate(-90)">Intensity (arb. un.)</text>
</g>
<g id="panel-labels" fill="#000" font-size="61" font-weight="bold">
<text x="16.2" y="42.8"><tspan dy="-2.2">(</tspan><tspan dy="2.2">a</tspan><tspan dy="-2.2">)</tspan></text>
<text x="14.4" y="541.2"><tspan dy="-1.5">(</tspan><tspan dy="1.5">b</tspan><tspan dy="-1.5">)</tspan></text>
<text x="789.0" y="541.2"><tspan dy="-1.5">(</tspan><tspan dy="1.5">c</tspan><tspan dy="-1.5">)</tspan></text>
</g>
</svg>
</body></html>
